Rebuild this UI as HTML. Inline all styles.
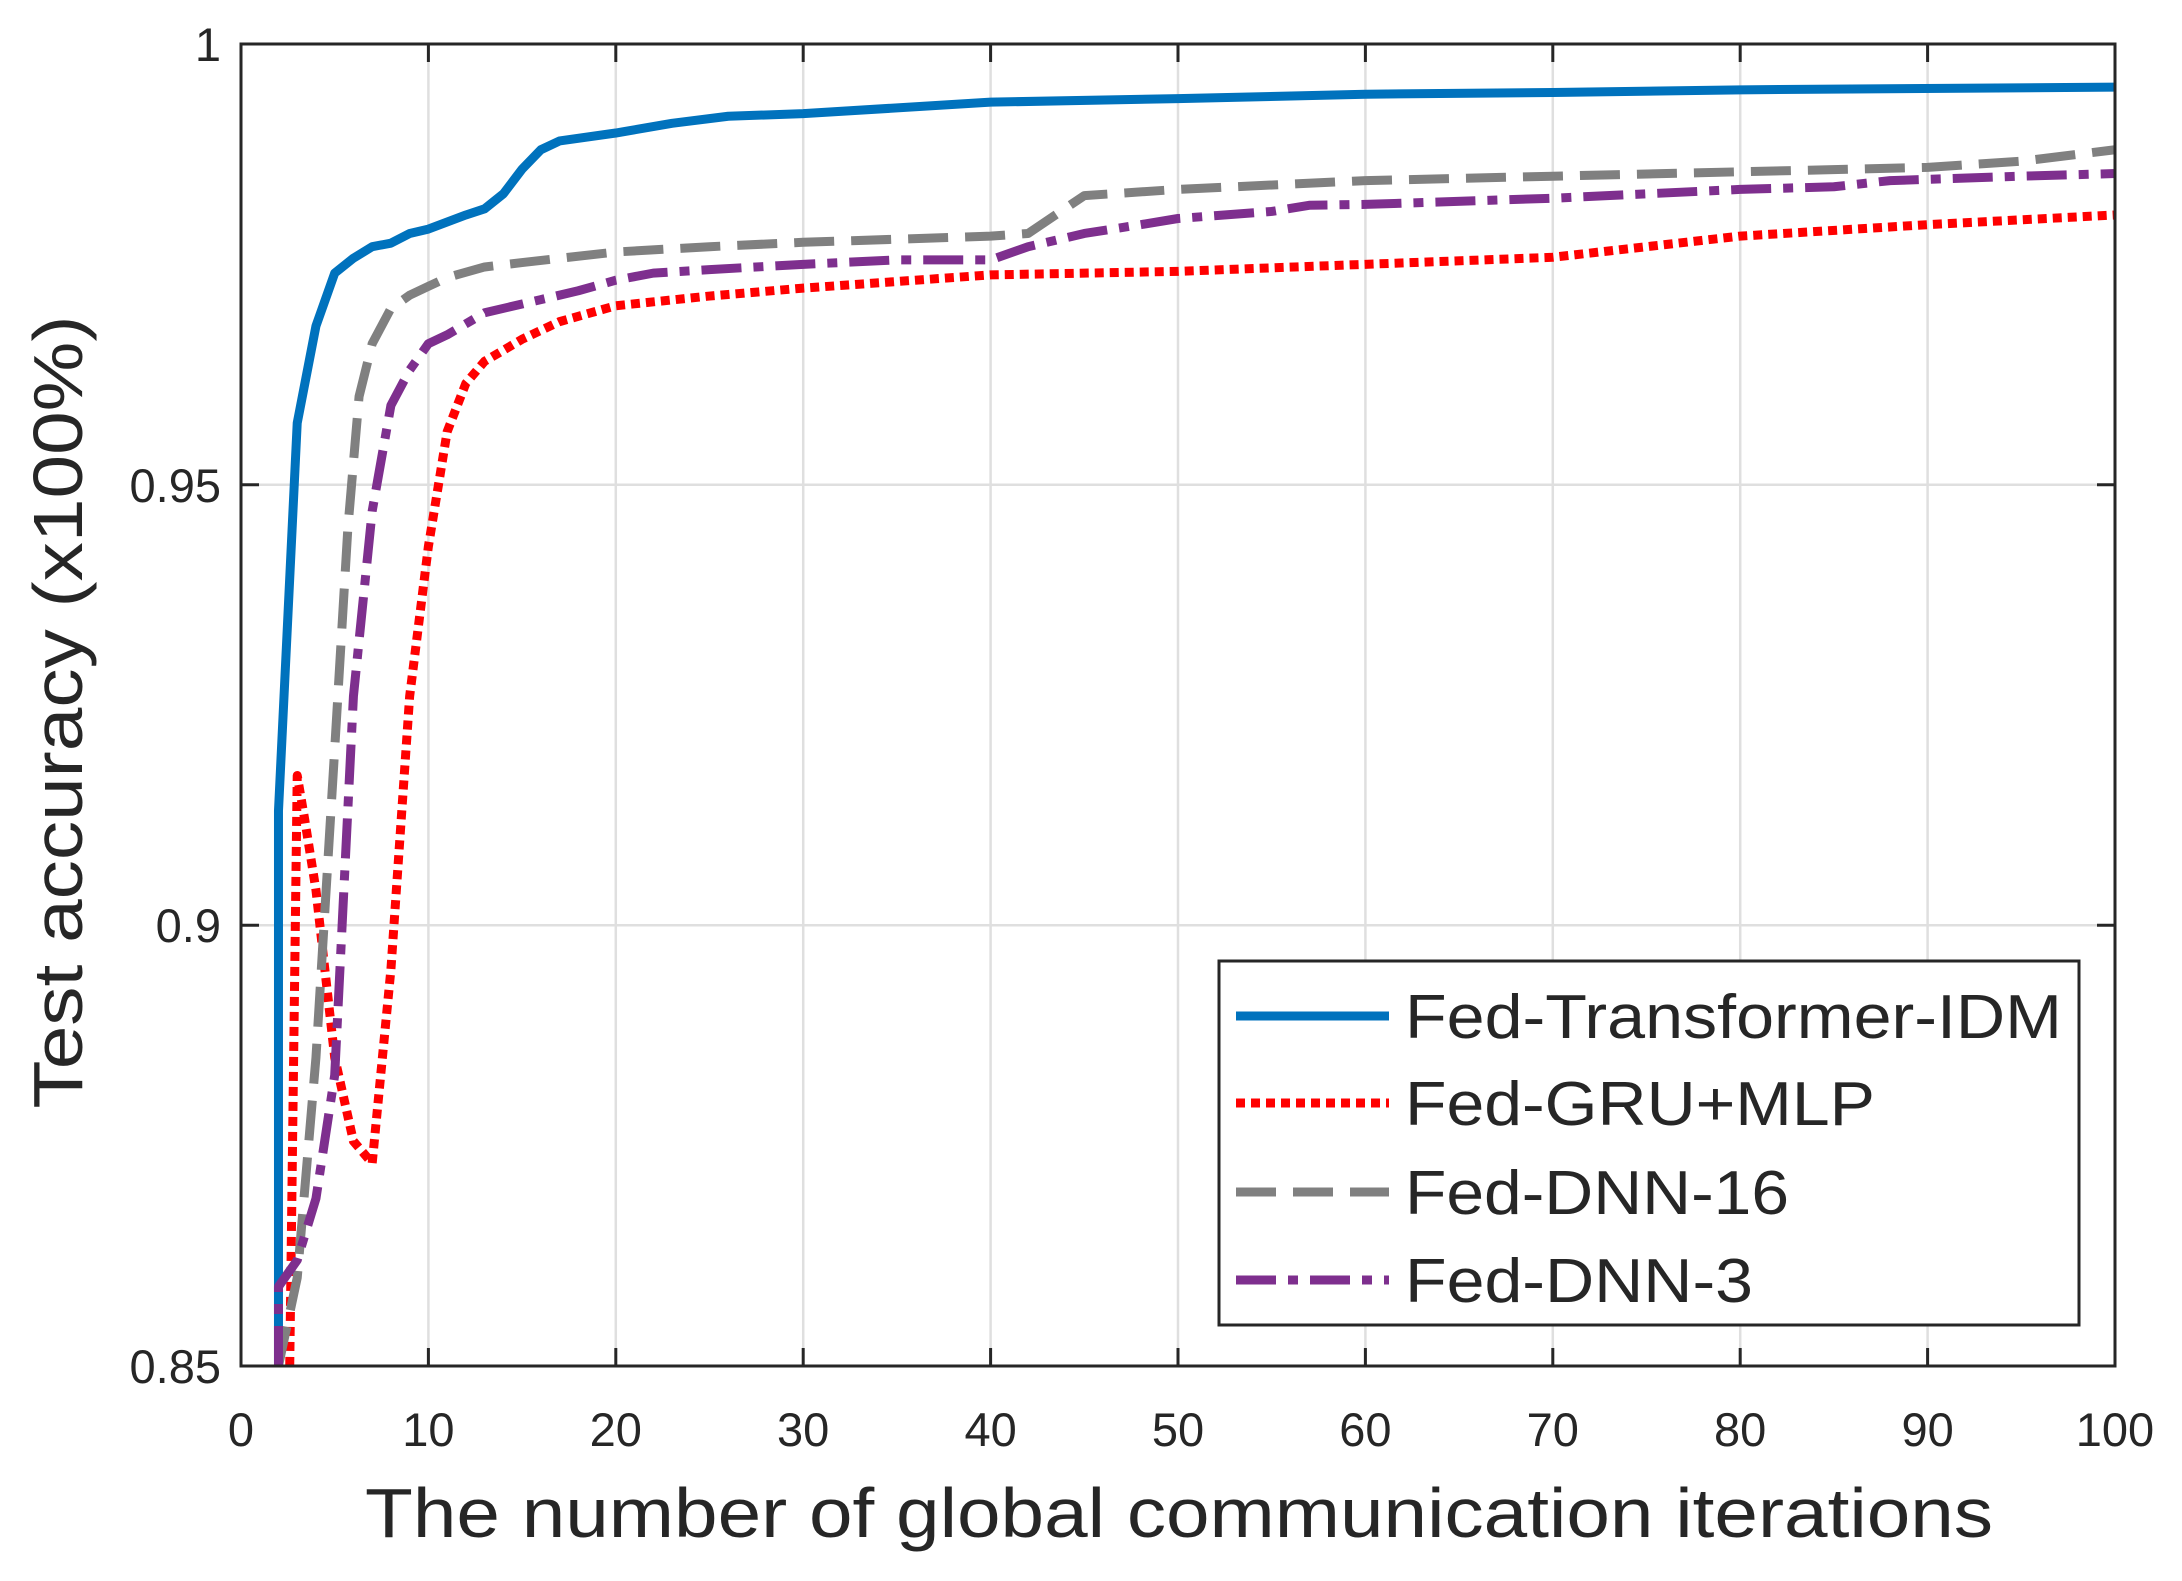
<!DOCTYPE html>
<html><head><meta charset="utf-8"><style>
html,body{margin:0;padding:0;background:#fff;}
svg text{font-family:"Liberation Sans",Arial,sans-serif;fill:#262626;}
</style></head><body>
<svg width="2182" height="1576" viewBox="0 0 2182 1576" xmlns="http://www.w3.org/2000/svg">
<rect width="2182" height="1576" fill="#fff"/>
<!-- grid -->
<g stroke="#dfdfdf" stroke-width="2.5">
<line x1="428.4" y1="44" x2="428.4" y2="1366"/><line x1="615.8" y1="44" x2="615.8" y2="1366"/>
<line x1="803.2" y1="44" x2="803.2" y2="1366"/><line x1="990.6" y1="44" x2="990.6" y2="1366"/>
<line x1="1178" y1="44" x2="1178" y2="1366"/><line x1="1365.4" y1="44" x2="1365.4" y2="1366"/>
<line x1="1552.8" y1="44" x2="1552.8" y2="1366"/><line x1="1740.2" y1="44" x2="1740.2" y2="1366"/>
<line x1="1927.6" y1="44" x2="1927.6" y2="1366"/>
<line x1="241" y1="484.7" x2="2115" y2="484.7"/><line x1="241" y1="925.3" x2="2115" y2="925.3"/>
</g>
<!-- series -->
<g transform="translate(241,44) scale(18.74,8.813)" fill="none" stroke-linejoin="round">
<polyline vector-effect="non-scaling-stroke" stroke="#0072bd" stroke-width="9" points="2,150 2,87 3,43 4,32 5,26 6,24.3 7,23 8,22.6 9,21.5 10,21 12,19.4 13,18.7 14,17 15,14.2 16,12 17,11 20,10.1 23,9 26,8.2 30,7.9 40,6.6 50,6.2 60,5.7 70,5.5 80,5.2 100,4.9"/>
<polyline vector-effect="non-scaling-stroke" stroke="#ff0000" stroke-width="9" stroke-dasharray="9 6" points="2.6,150 3,83 3.4,88 4,96 5,115 6,124.5 7,127 8,105 9,74 10,57 11,44 12,38.5 13,36 15,33.5 17,31.5 20,29.7 25,28.6 30,27.7 40,26.2 50,25.8 60,25 70,24.2 80,21.8 90,20.5 100,19.4"/>
<polyline vector-effect="non-scaling-stroke" stroke="#808080" stroke-width="9" stroke-dasharray="40 17" points="2,150 3,140 4,115 5,80 5.7,55 6.3,40 7,34 8,30 9,28.5 10,27.5 11,26.5 13,25.3 15,24.8 20,23.6 25,23 30,22.5 40,21.8 42,21.5 45,17.2 50,16.5 60,15.5 70,15 80,14.5 90,14 95,13.3 100,12"/>
<polyline vector-effect="non-scaling-stroke" stroke="#7e2f8e" stroke-width="9" stroke-dasharray="40 12 10 12" points="2,150 2,141 3,138 4,131 5,117 6,74 7,53 8,41 9,37 10,34 11,33 13,30.5 15,29.5 16,29 18,28 20,26.8 22,26 25,25.6 30,25 35,24.5 40,24.5 42,23 45,21.5 48,20.5 50,19.8 55,19 57,18.3 60,18.2 70,17.5 80,16.5 85,16.2 88,15.5 95,15 100,14.7"/>
</g>
<!-- axes box -->
<rect x="241" y="44" width="1874" height="1322" fill="none" stroke="#262626" stroke-width="3"/>
<g stroke="#262626" stroke-width="3">
<path d="M428.4,1366v-18M615.8,1366v-18M803.2,1366v-18M990.6,1366v-18M1178,1366v-18M1365.4,1366v-18M1552.8,1366v-18M1740.2,1366v-18M1927.6,1366v-18"/>
<path d="M428.4,44v18M615.8,44v18M803.2,44v18M990.6,44v18M1178,44v18M1365.4,44v18M1552.8,44v18M1740.2,44v18M1927.6,44v18"/>
<path d="M241,484.7h18M241,925.3h18M2115,484.7h-18M2115,925.3h-18"/>
</g>
<!-- tick labels -->
<g font-size="47" text-anchor="middle">
<text x="241" y="1446">0</text><text x="428.4" y="1446">10</text><text x="615.8" y="1446">20</text>
<text x="803.2" y="1446">30</text><text x="990.6" y="1446">40</text><text x="1178" y="1446">50</text>
<text x="1365.4" y="1446">60</text><text x="1552.8" y="1446">70</text><text x="1740.2" y="1446">80</text>
<text x="1927.6" y="1446">90</text><text x="2115" y="1446">100</text>
</g>
<g font-size="47" text-anchor="end">
<text x="221" y="1383">0.85</text><text x="221" y="942">0.9</text><text x="221" y="502">0.95</text><text x="221" y="61">1</text>
</g>
<text x="1179" y="1537" font-size="70" text-anchor="middle" textLength="1628" lengthAdjust="spacingAndGlyphs">The number of global communication iterations</text>
<text transform="translate(82,712) rotate(-90)" font-size="70" text-anchor="middle" textLength="793" lengthAdjust="spacingAndGlyphs">Test accuracy (x100%)</text>
<!-- legend -->
<rect x="1219" y="961" width="860" height="364" fill="#fff" stroke="#262626" stroke-width="3"/>
<g fill="none" stroke-width="9">
<line x1="1236" y1="1016" x2="1389" y2="1016" stroke="#0072bd"/>
<line x1="1236" y1="1103" x2="1389" y2="1103" stroke="#ff0000" stroke-dasharray="9 6"/>
<line x1="1236" y1="1192" x2="1389" y2="1192" stroke="#808080" stroke-dasharray="40 17"/>
<line x1="1236" y1="1280" x2="1389" y2="1280" stroke="#7e2f8e" stroke-dasharray="40 12 10 12"/>
</g>
<g font-size="62" fill="#000">
<text x="1405" y="1038" textLength="657" lengthAdjust="spacingAndGlyphs">Fed-Transformer-IDM</text>
<text x="1405" y="1125" textLength="470" lengthAdjust="spacingAndGlyphs">Fed-GRU+MLP</text>
<text x="1405" y="1214" textLength="384" lengthAdjust="spacingAndGlyphs">Fed-DNN-16</text>
<text x="1405" y="1302" textLength="348" lengthAdjust="spacingAndGlyphs">Fed-DNN-3</text>
</g>
</svg>
</body></html>
